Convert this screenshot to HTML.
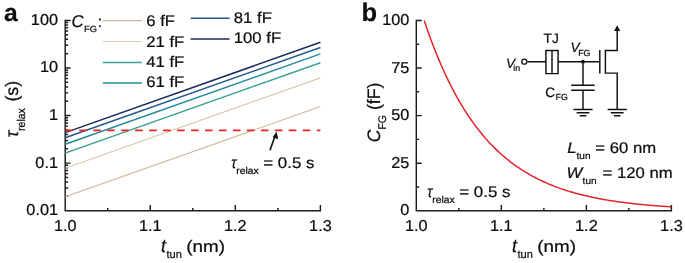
<!DOCTYPE html>
<html lang="en"><head><meta charset="utf-8"><title>Figure</title>
<style>html,body{margin:0;padding:0;background:#fff;}svg{display:block;}text{stroke:#0d0d0d;stroke-width:0.22px;}</style></head>
<body>
<svg width="685" height="263" viewBox="0 0 685 263" font-family='"Liberation Sans", Arial, Helvetica, sans-serif' fill="#0d0d0d" text-rendering="geometricPrecision">
<rect width="685" height="263" fill="#fff"/>
<path d="M65.2 19.674999999999997V210.7H321.125M65.2 196.38h2.9M65.2 188.00h2.9M65.2 182.06h2.9M65.2 177.45h2.9M65.2 173.68h2.9M65.2 170.49h2.9M65.2 167.74h2.9M65.2 165.30h2.9M65.2 163.12h5.4M65.2 148.80h2.9M65.2 140.43h2.9M65.2 134.48h2.9M65.2 129.87h2.9M65.2 126.10h2.9M65.2 122.92h2.9M65.2 120.16h2.9M65.2 117.73h2.9M65.2 115.55h5.4M65.2 101.23h2.9M65.2 92.85h2.9M65.2 86.91h2.9M65.2 82.30h2.9M65.2 78.53h2.9M65.2 75.34h2.9M65.2 72.59h2.9M65.2 70.15h2.9M65.2 67.97h5.4M65.2 53.65h2.9M65.2 45.28h2.9M65.2 39.33h2.9M65.2 34.72h2.9M65.2 30.95h2.9M65.2 27.77h2.9M65.2 25.01h2.9M65.2 22.58h2.9M65.2 20.40h5.4M107.73 210.7v-2.8M150.27 210.7v-5.8M192.80 210.7v-2.8M235.33 210.7v-5.8M277.87 210.7v-2.8M320.40 210.7v-5.8" fill="none" stroke="#1e1e1e" stroke-width="1.45"/>
<g fill="none" stroke-linecap="butt">
<line x1="65.2" y1="196.80" x2="320.4" y2="106.50" stroke="#d3b596" stroke-width="1.15"/>
<line x1="65.2" y1="168.20" x2="320.4" y2="77.90" stroke="#d9caa9" stroke-width="1.15"/>
<line x1="65.2" y1="153.10" x2="320.4" y2="62.80" stroke="#3ba190" stroke-width="1.45"/>
<line x1="65.2" y1="144.20" x2="320.4" y2="53.90" stroke="#218a9c" stroke-width="1.45"/>
<line x1="65.2" y1="137.80" x2="320.4" y2="47.50" stroke="#23598c" stroke-width="1.45"/>
<line x1="65.2" y1="132.60" x2="320.4" y2="42.30" stroke="#1a2a58" stroke-width="1.5"/>
</g>
<line x1="65.3" y1="130.3" x2="320.4" y2="130.3" stroke="#e8262a" stroke-width="1.7" stroke-dasharray="7.6 6.37"/>
<text transform="translate(58.0 24.8) scale(1.03 1)" font-size="15.8" text-anchor="end">100</text>
<text transform="translate(58.0 72.38) scale(1.03 1)" font-size="15.8" text-anchor="end">10</text>
<text transform="translate(58.0 119.95) scale(1.03 1)" font-size="15.8" text-anchor="end">1</text>
<text transform="translate(58.0 167.53) scale(1.03 1)" font-size="15.8" text-anchor="end">0.1</text>
<text transform="translate(58.0 215.1) scale(1.03 1)" font-size="15.8" text-anchor="end">0.01</text>
<text transform="translate(65.2 230.8) scale(1.03 1)" font-size="15.8" text-anchor="middle">1.0</text>
<text transform="translate(150.27 230.8) scale(1.03 1)" font-size="15.8" text-anchor="middle">1.1</text>
<text transform="translate(235.33 230.8) scale(1.03 1)" font-size="15.8" text-anchor="middle">1.2</text>
<text transform="translate(320.4 230.8) scale(1.03 1)" font-size="15.8" text-anchor="middle">1.3</text>
<text transform="translate(161.0 251.7) scale(0.95 1)" font-size="18.6"><tspan font-style="italic">t</tspan></text>
<text transform="translate(166.4 258.3) scale(0.99 1)" font-size="11.2">tun</text>
<text transform="translate(186.2 251.7) scale(1.135 1)" font-size="16.6">(nm)</text>
<text transform="translate(18 137.4) rotate(-90) scale(1.0 1)" font-size="18"><tspan font-style="italic">τ</tspan></text>
<text transform="translate(24.6 130.9) rotate(-90) scale(0.92 1)" font-size="11.4">relax</text>
<text transform="translate(18 101.6) rotate(-90) scale(0.985 1)" font-size="18">(s)</text>
<text x="3.9" y="20.5" font-size="24.6" font-weight="bold">a</text>
<text transform="translate(71.5 26.9) scale(1.0 1)" font-size="16.9"><tspan font-style="italic">C</tspan></text>
<text transform="translate(84.0 31.7) scale(1.06 1)" font-size="8.9">FG</text>
<text transform="translate(97.8 26.9) scale(1.0 1)" font-size="16">:</text>
<line x1="102.8" y1="20.7" x2="141.8" y2="20.7" stroke="#d3b596" stroke-width="1.2"/>
<text transform="translate(146.2 25.5) scale(1.085 1)" font-size="15.4">6 fF</text>
<line x1="102.8" y1="41.5" x2="141.8" y2="41.5" stroke="#d9caa9" stroke-width="1.2"/>
<text transform="translate(146.2 46.5) scale(1.085 1)" font-size="15.4">21 fF</text>
<line x1="102.8" y1="62.5" x2="141.8" y2="62.5" stroke="#3ba190" stroke-width="1.5"/>
<text transform="translate(146.2 67.0) scale(1.085 1)" font-size="15.4">41 fF</text>
<line x1="102.8" y1="83.0" x2="141.8" y2="83.0" stroke="#218a9c" stroke-width="1.5"/>
<text transform="translate(146.2 87.4) scale(1.085 1)" font-size="15.4">61 fF</text>
<line x1="190.6" y1="18.2" x2="229.6" y2="18.2" stroke="#23598c" stroke-width="1.5"/>
<text transform="translate(233.8 22.8) scale(1.085 1)" font-size="15.4">81 fF</text>
<line x1="190.6" y1="39.0" x2="229.6" y2="39.0" stroke="#1a2a58" stroke-width="1.55"/>
<text transform="translate(233.8 43.4) scale(1.085 1)" font-size="15.4">100 fF</text>
<text transform="translate(231.2 168.4) scale(0.86 1)" font-size="16"><tspan font-style="italic">τ</tspan></text>
<text transform="translate(236.2 174.3) scale(1.06 1)" font-size="9.8">relax</text>
<text transform="translate(263.2 168.4) scale(1.1 1)" font-size="15.4">= 0.5 s</text>
<line x1="270" y1="150.2" x2="275" y2="136" stroke="#111" stroke-width="1.6"/>
<path d="M276.6 131.6 L278.2 139.2 L272.6 137.2 Z" fill="#111"/>
<polyline points="424.21,20.50 426.27,26.58 428.33,32.46 430.39,38.15 432.45,43.66 434.51,49.00 436.57,54.16 438.63,59.16 440.69,64.00 442.75,68.69 444.81,73.22 446.87,77.61 448.93,81.86 450.99,85.98 453.05,89.96 455.11,93.82 457.17,97.55 459.23,101.17 461.29,104.67 463.35,108.05 465.41,111.33 467.47,114.50 469.53,117.58 471.59,120.55 473.65,123.43 475.71,126.22 477.77,128.92 479.83,131.53 481.89,134.06 483.95,136.51 486.01,138.88 488.07,141.17 490.13,143.39 492.19,145.54 494.25,147.62 496.31,149.64 498.37,151.59 500.43,153.47 502.49,155.30 504.55,157.07 506.61,158.78 508.67,160.44 510.73,162.05 512.79,163.60 514.85,165.11 516.91,166.56 518.96,167.97 521.02,169.34 523.08,170.66 525.14,171.94 527.20,173.18 529.26,174.37 531.32,175.53 533.38,176.66 535.44,177.74 537.50,178.80 539.56,179.82 541.62,180.80 543.68,181.76 545.74,182.68 547.80,183.58 549.86,184.44 551.92,185.28 553.98,186.09 556.04,186.88 558.10,187.64 560.16,188.38 562.22,189.09 564.28,189.78 566.34,190.45 568.40,191.10 570.46,191.72 572.52,192.33 574.58,192.91 576.64,193.48 578.70,194.03 580.76,194.56 582.82,195.08 584.88,195.58 586.94,196.06 589.00,196.53 591.06,196.98 593.12,197.42 595.18,197.84 597.24,198.26 599.30,198.65 601.36,199.04 603.42,199.41 605.48,199.77 607.54,200.12 609.60,200.46 611.66,200.78 613.72,201.10 615.78,201.41 617.84,201.70 619.90,201.99 621.96,202.27 624.02,202.54 626.08,202.80 628.14,203.05 630.20,203.30 632.26,203.53 634.32,203.76 636.38,203.98 638.44,204.20 640.50,204.41 642.56,204.61 644.62,204.80 646.68,204.99 648.74,205.17 650.80,205.35 652.86,205.52 654.92,205.69 656.98,205.85 659.04,206.00 661.10,206.15 663.16,206.30 665.22,206.44 667.28,206.57 669.34,206.70 671.40,206.83" fill="none" stroke="#e3252b" stroke-width="1.5"/>
<path d="M416.3 19.775V210.7H672.125M416.3 186.92h2.9M416.3 163.15h5.4M416.3 139.38h2.9M416.3 115.60h5.4M416.3 91.82h2.9M416.3 68.05h5.4M416.3 44.27h2.9M416.3 20.50h5.4M458.82 210.7v-2.8M501.33 210.7v-5.8M543.85 210.7v-2.8M586.37 210.7v-5.8M628.88 210.7v-2.8M671.40 210.7v-5.8" fill="none" stroke="#1e1e1e" stroke-width="1.45"/>
<text transform="translate(409.4 25.1) scale(1.03 1)" font-size="15.8" text-anchor="end">100</text>
<text transform="translate(409.4 72.65) scale(1.03 1)" font-size="15.8" text-anchor="end">75</text>
<text transform="translate(409.4 120.2) scale(1.03 1)" font-size="15.8" text-anchor="end">50</text>
<text transform="translate(409.4 167.75) scale(1.03 1)" font-size="15.8" text-anchor="end">25</text>
<text transform="translate(409.4 215.3) scale(1.03 1)" font-size="15.8" text-anchor="end">0</text>
<text transform="translate(416.3 230.8) scale(1.03 1)" font-size="15.8" text-anchor="middle">1.0</text>
<text transform="translate(501.33 230.8) scale(1.03 1)" font-size="15.8" text-anchor="middle">1.1</text>
<text transform="translate(586.37 230.8) scale(1.03 1)" font-size="15.8" text-anchor="middle">1.2</text>
<text transform="translate(671.4 230.8) scale(1.03 1)" font-size="15.8" text-anchor="middle">1.3</text>
<text transform="translate(512.1 251.7) scale(0.95 1)" font-size="18.6"><tspan font-style="italic">t</tspan></text>
<text transform="translate(517.5 258.3) scale(0.99 1)" font-size="11.2">tun</text>
<text transform="translate(537.3 251.7) scale(1.135 1)" font-size="16.6">(nm)</text>
<text transform="translate(380.2 142.2) rotate(-90) scale(0.98 1)" font-size="18"><tspan font-style="italic">C</tspan></text>
<text transform="translate(386.1 129.6) rotate(-90) scale(0.93 1)" font-size="11.2">FG</text>
<text transform="translate(380.2 110.1) rotate(-90) scale(0.985 1)" font-size="18">(fF)</text>
<text x="361.4" y="21" font-size="25.5" font-weight="bold">b</text>
<text transform="translate(427.2 196.8) scale(0.86 1)" font-size="16"><tspan font-style="italic">τ</tspan></text>
<text transform="translate(432.2 202.7) scale(1.06 1)" font-size="9.8">relax</text>
<text transform="translate(459.2 196.8) scale(1.1 1)" font-size="15.4">= 0.5 s</text>
<text transform="translate(567.2 152.6) scale(1.085 1)" font-size="15.4"><tspan font-style="italic">L</tspan></text>
<text transform="translate(576.5 158.5) scale(1.05 1)" font-size="9.6">tun</text>
<text transform="translate(595.3 152.6) scale(1.085 1)" font-size="15.4">= 60 nm</text>
<text transform="translate(566.5 177.6) scale(1.085 1)" font-size="15.4"><tspan font-style="italic">W</tspan></text>
<text transform="translate(582.6 183.5) scale(1.05 1)" font-size="9.6">tun</text>
<text transform="translate(602.6 177.6) scale(1.085 1)" font-size="15.4">= 120 nm</text>
<path d="M527.4 61.7H545.9 M545.9 50.4H558.1V73.6H545.9Z M552 50.4V73.6 M558.1 61.7H599.8 M599.8 49.9V73.4 M617.2 30V50.5H605.4V73.1H617.2V109.4 M583 61.7V85.3 M571.2 85.3H594.7 M571.2 90.2H594.7 M583 90.2V109.4 M573.4 109.4h19.2 M576.6 112.8h12.8 M579.7 115.8h6.6 M607.6 109.4h19.2 M610.8000000000001 112.8h12.8 M613.9000000000001 115.8h6.6" fill="none" stroke="#111" stroke-width="1.45"/>
<circle cx="524.3" cy="61.7" r="2.5" fill="#fff" stroke="#111" stroke-width="1.3"/>
<circle cx="583" cy="61.7" r="1.9" fill="#111"/>
<path d="M617.2 25.2 L620.3 30.9 H614.1 Z" fill="#111"/>
<text transform="translate(543.6 42.5) scale(1.01 1)" font-size="13.5">TJ</text>
<text transform="translate(570.6 52.2) scale(1.01 1)" font-size="13.5"><tspan font-style="italic">V</tspan><tspan font-size="8.8" dy="3.5" dx="-1.5">FG</tspan></text>
<text transform="translate(506 67.8) scale(1.01 1)" font-size="13.5"><tspan font-style="italic">V</tspan><tspan font-size="8.8" dy="3.4" dx="-1.8">in</tspan></text>
<text transform="translate(545.2 96.7) scale(1.01 1)" font-size="13.5">C<tspan font-size="8.8" dy="3.4" dx="0.5">FG</tspan></text>
</svg>
</body></html>
